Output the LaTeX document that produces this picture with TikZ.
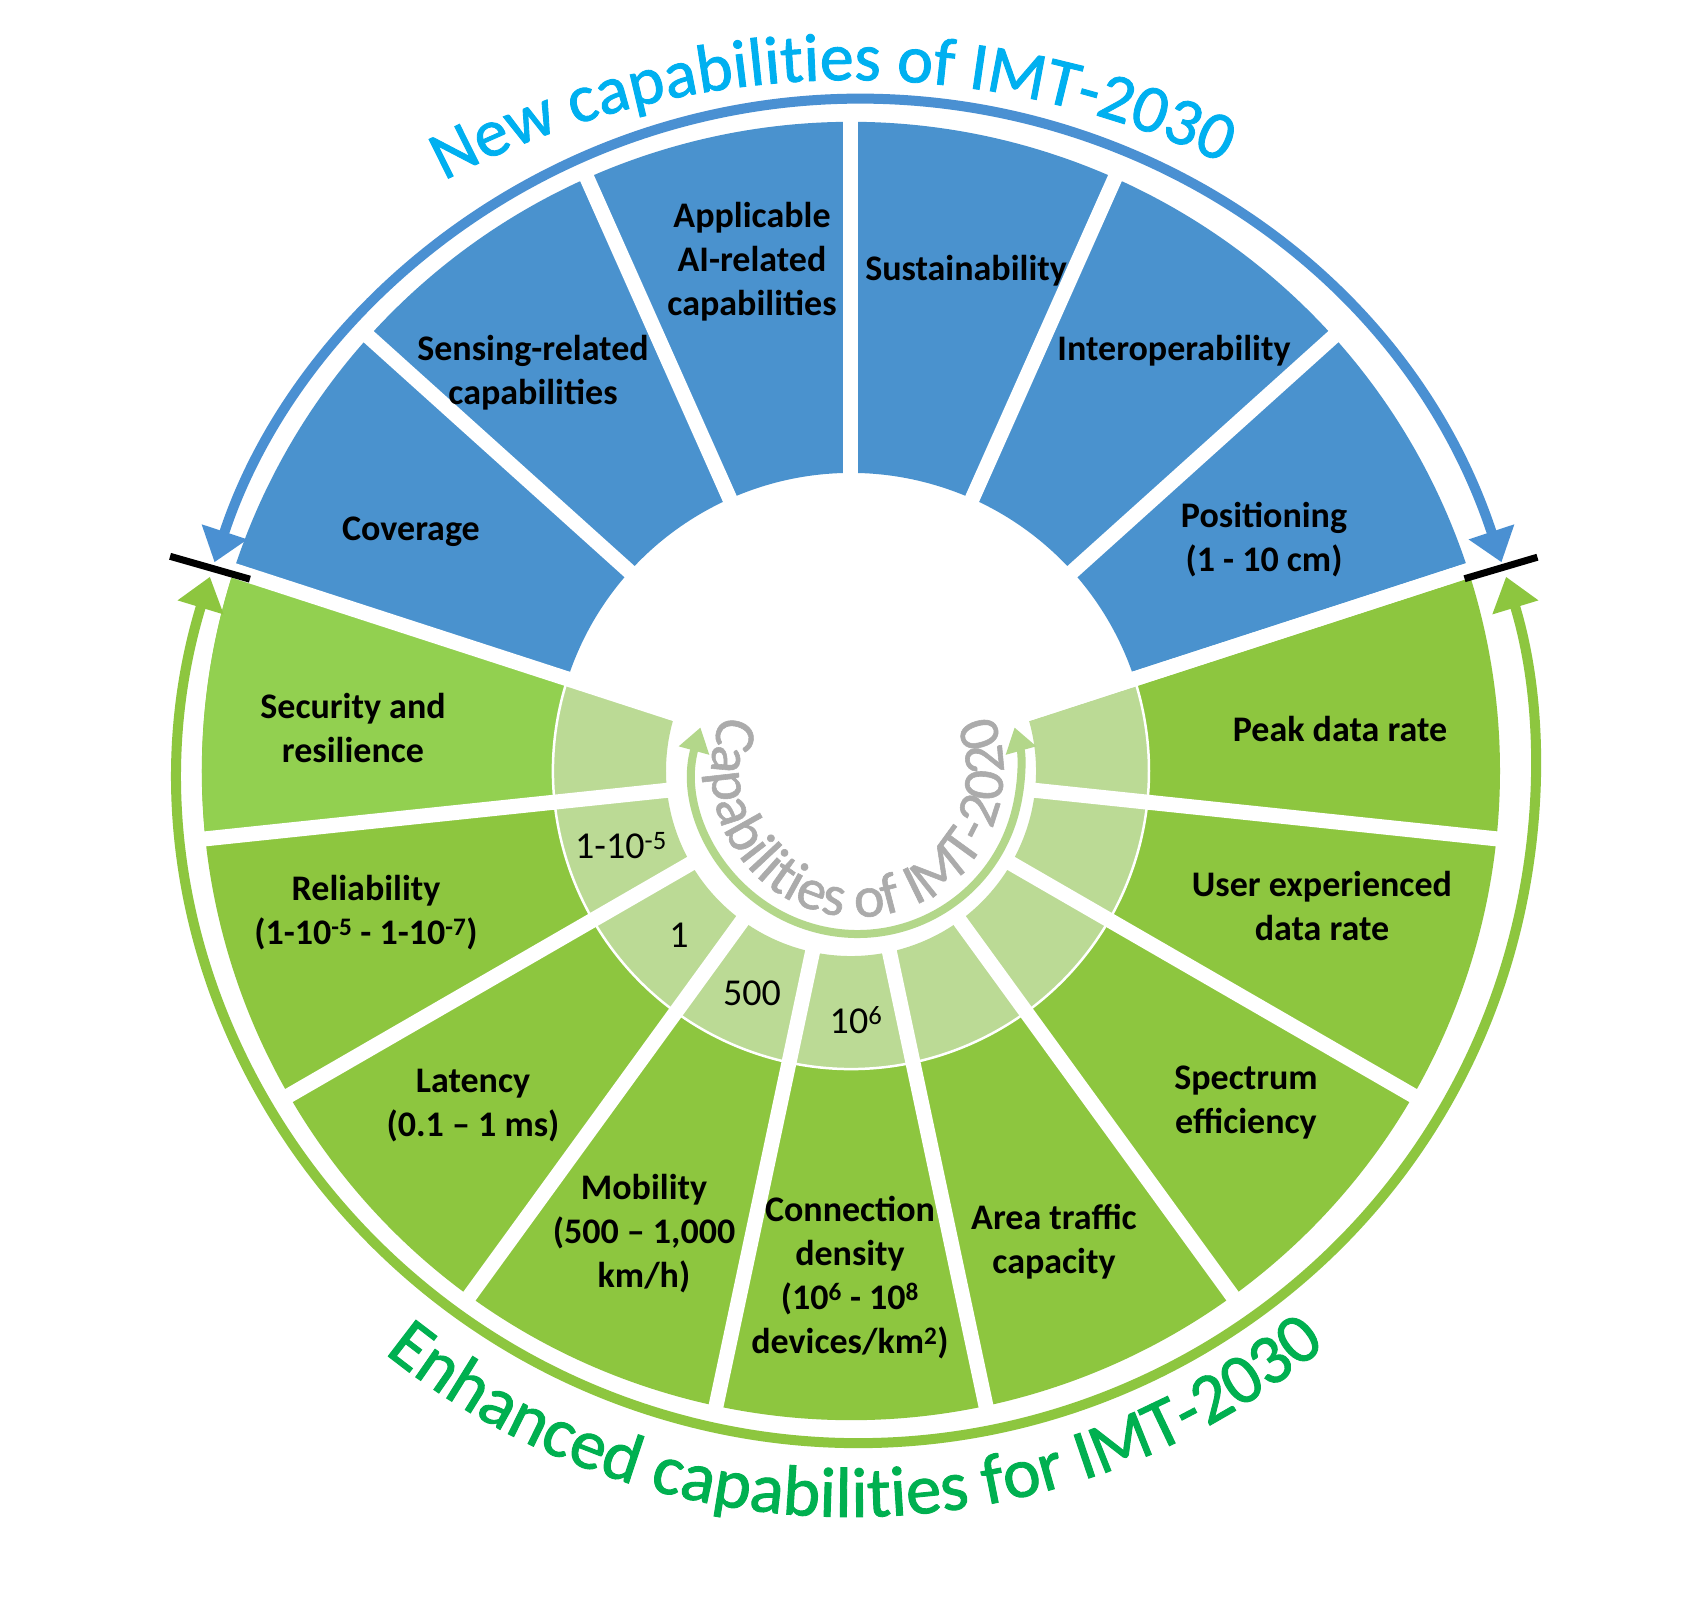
\documentclass[tikz,border=0pt]{standalone}
\usepackage{fontspec}
\setmainfont{Carlito}
\newfontfamily\ttlfont[FakeBold=1.3]{Carlito}
\newfontfamily\inrfont[FakeBold=1.0]{Carlito}
\usetikzlibrary{arrows.meta,decorations.text}
\definecolor{wblue}{HTML}{4A92CE}
\definecolor{arcblue}{HTML}{4A90D2}
\definecolor{ttlblue}{HTML}{00B0F0}
\definecolor{wgreen}{HTML}{8DC63F}
\definecolor{wgreenl}{HTML}{92D050}
\definecolor{ringgreen}{HTML}{BBDA95}
\definecolor{innerarrow}{HTML}{B3D78A}
\definecolor{arcgreen}{HTML}{8DC63F}
\definecolor{ttlgreen}{HTML}{00B050}
\definecolor{innergray}{HTML}{ABABAB}
\begin{document}
\begin{tikzpicture}[x=1pt,y=1pt,
  lbl/.style={font=\fontsize{36}{44}\selectfont\bfseries, align=center, text=black, inner sep=0pt},
  val/.style={font=\fontsize{38}{42}\selectfont, text=black, inner sep=0pt},
  gapline/.style={white, line width=15pt},
  tickline/.style={black, line width=7pt},
  bigarc/.style={line width=10pt, {Triangle[width=46pt,length=32pt]}-{Triangle[width=46pt,length=32pt]}},
  smallarc/.style={line width=8pt, {Triangle[width=30pt,length=24pt]}-{Triangle[width=30pt,length=24pt]}}
  ]
\useasboundingbox (-851,-841) rectangle (857,771);
\fill[white] (-851,-841) rectangle (857,771);

% wedges
\fill[wblue] (18:649pt) arc[start angle=18,end angle=162,radius=649pt] -- (162:298pt) arc[start angle=162,end angle=18,radius=298pt] -- cycle;
\fill[wgreen] (162:649pt) arc[start angle=162,end angle=378,radius=649pt] -- (378:298pt) arc[start angle=378,end angle=162,radius=298pt] -- cycle;
\fill[wgreenl] (162:649pt) arc[start angle=162,end angle=186,radius=649pt] -- (186:298pt) arc[start angle=186,end angle=162,radius=298pt] -- cycle;
\fill[ringgreen] (162:298pt) arc[start angle=162,end angle=378,radius=298pt] -- (378:185pt) arc[start angle=378,end angle=162,radius=185pt] -- cycle;
\draw[white, line width=2.5pt] (162:298pt) arc[start angle=162,end angle=378,radius=298pt];
\foreach \a in {18,42,...,378} \draw[gapline] (\a:180pt) -- (\a:660pt);

% ticks
\coordinate (tla) at (162.5:714pt);
\coordinate (tlb) at (162.3:631pt);
\coordinate (tra) at (17.3:719pt);
\coordinate (trb) at (17.4:643pt);
\draw[tickline] (tla) -- (tlb);
\draw[tickline] (tra) -- (trb);

% outer arrows
\begin{scope}[shift={(7,0)}]
\draw[arcblue, bigarc] (18.1:677pt and 672pt) arc[start angle=18.1,end angle=161.9,x radius=677pt,y radius=672pt];
\draw[arcgreen, bigarc] (163.2:677pt and 672pt) arc[start angle=163.2,end angle=376.8,x radius=677pt,y radius=672pt];
\end{scope}

% inner arrow and text
\begin{scope}[shift={(6.5,0)}]
\draw[innerarrow, smallarc] (164.5:163pt) arc[start angle=164.5,end angle=375.5,radius=163pt];
\path[decorate, decoration={text along path, text={|\inrfont\fontsize{58}{62}\selectfont\color{innergray}|Capabilities of IMT-2020}, text align=center}] (158:146pt) arc[start angle=158,end angle=382,radius=146pt];
\end{scope}

% titles
\begin{scope}[shift={(0,-180)}]
\path[decorate, decoration={text along path, text={|\ttlfont\fontsize{68}{80}\selectfont\color{ttlblue}|New capabilities of IMT-2030}, text align=center}] (122:871pt) arc[start angle=122,end angle=60.6,radius=871pt];
\end{scope}
\path[decorate, decoration={text along path, text={|\ttlfont\fontsize{71}{84}\selectfont\color{ttlgreen}|Enhanced capabilities for IMT-2030}, text align=center}] (226.9:746pt) arc[start angle=226.9,end angle=313.9,radius=746pt];

% labels
\node[lbl] (app) at (-99,509) {Applicable\\AI-related\\capabilities};
\node[lbl] (sus) at (115,500) {Sustainability};
\node[lbl] (sen) at (-318,398) {Sensing-related\\capabilities};
\node[lbl] (int) at (323,420) {Interoperability};
\node[lbl] (cov) at (-440,239) {Coverage};
\node[lbl] (pos) at (413,231) {Positioning\\(1 - 10 cm)};
\node[lbl] (sec) at (-498,43) {Security and\\resilience};
\node[lbl] (pdr) at (489,42) {Peak data rate};
\node[lbl] (rel) at (-485,-142) {Reliability\\(1-10\textsuperscript{-5} - 1-10\textsuperscript{-7})};
\node[lbl] (ued) at (471,-135) {User experienced\\data rate};
\node[lbl] (lat) at (-378,-335) {Latency\\(0.1 -- 1 ms)};
\node[lbl] (spe) at (395,-332) {Spectrum\\efficiency};
\node[lbl] (mob) at (-207,-463) {Mobility\\(500 -- 1,000\\km/h)};
\node[lbl] (con) at (-1,-507) {Connection\\density\\(10\textsuperscript{6} - 10\textsuperscript{8}\\devices/km\textsuperscript{2})};
\node[lbl] (atc) at (203,-471) {Area traffic\\capacity};

% ring values
\node[val] (vrel) at (-230,-75) {1-10\textsuperscript{-5}};
\node[val] (vlat) at (-172,-164) {1};
\node[val] (vmob) at (-99,-222) {500};
\node[val] (vcon) at (5,-249) {10\textsuperscript{6}};
\end{tikzpicture}
\end{document}
